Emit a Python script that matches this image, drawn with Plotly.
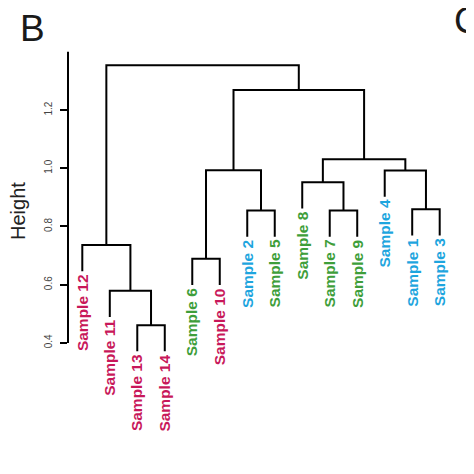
import plotly.graph_objects as go

# Orden de las hojas en el dendrograma (de izquierda a derecha)
leaf_order = [12, 11, 13, 14, 6, 10, 2, 5, 8, 7, 9, 4, 1, 3]

# Grupo de cada muestra
group_red = [10, 11, 12, 13, 14]
group_green = [5, 6, 7, 8, 9]
group_blue = [1, 2, 3, 4]

# Uniones estilo hclust: negativo = muestra, positivo = union previa
merge_left = [-13, -11, -6, -12, -2, -7, -1, -8, -4, 3, 8, 10, 4]
merge_right = [-14, 1, -10, 2, -5, -9, -3, 6, 7, 5, 9, 11, 12]
merge_height = [0.461, 0.579, 0.689, 0.736, 0.855, 0.855, 0.859,
                0.952, 0.992, 0.993, 1.031, 1.269, 1.354]

hang = 0.09
yticks = [0.4, 0.6, 0.8, 1.0, 1.2]

colors = {}
for s in group_red:
    colors[s] = '#C8185A'
for s in group_green:
    colors[s] = '#3E9E3A'
for s in group_blue:
    colors[s] = '#1EA5DE'

leaf_x = {s: i + 1 for i, s in enumerate(leaf_order)}
node_x = []

def child_pos(c, h):
    # devuelve (x, y_inferior) del hijo
    if c < 0:
        return leaf_x[-c], h - hang
    return node_x[c - 1], merge_height[c - 1]

xs, ys = [], []
leaf_ends = {}
for i in range(len(merge_height)):
    h = merge_height[i]
    xl, yl = child_pos(merge_left[i], h)
    xr, yr = child_pos(merge_right[i], h)
    for c, y in ((merge_left[i], yl), (merge_right[i], yr)):
        if c < 0:
            leaf_ends[-c] = y
    xs += [xl, xl, xr, xr, None]
    ys += [yl, h, h, yr, None]
    node_x.append((xl + xr) / 2)

fig = go.Figure(go.Scatter(
    x=xs, y=ys, mode='lines',
    line=dict(color='black', width=2),
    hoverinfo='skip', showlegend=False,
))

# Etiquetas de las hojas
for s in leaf_order:
    fig.add_annotation(
        x=leaf_x[s], y=leaf_ends[s], xref='x', yref='y',
        text='<b>Sample %d</b>' % s, showarrow=False, textangle=-90,
        xanchor='center', yanchor='top', yshift=-2, borderpad=0,
        font=dict(family='Liberation Sans, Arial', size=15.5, color=colors[s]),
    )

# Eje vertical (solo de 0.4 a 1.4, como en R)
fig.add_shape(type='line', xref='paper', yref='y', x0=0, x1=0, y0=0.4, y1=1.4,
              line=dict(color='black', width=2))

fig.add_annotation(x=-0.1295, y=0.494, xref='paper', yref='paper', text='Height',
                   showarrow=False, textangle=-90, xanchor='center', yanchor='middle',
                   font=dict(family='Liberation Sans, Arial', size=20, color='#222'))
fig.add_annotation(x=-0.129, y=1.055, xref='paper', yref='paper', text='B',
                   showarrow=False, xanchor='left', yanchor='middle',
                   font=dict(family='Liberation Sans, Arial', size=37, color='#1a1a1a'))
fig.add_annotation(x=0.995, y=1.077, xref='paper', yref='paper', text='C',
                   showarrow=False, xanchor='left', yanchor='middle',
                   font=dict(family='Liberation Sans, Arial', size=37, color='#1a1a1a'))

# La pagina tiene 8px de margen en body: figura de 466 px
fig.update_layout(
    width=466, height=466,
    margin=dict(l=60, r=20, t=38, b=102),
    paper_bgcolor='white', plot_bgcolor='white',
    xaxis=dict(visible=False, range=[0.48, 14.52]),
    yaxis=dict(range=[0.3, 1.42], tickvals=yticks, ticktext=['%.1f' % v for v in yticks],
               ticks='outside', ticklen=7, tickwidth=2, tickcolor='black',
               showline=False, showgrid=False, zeroline=False,
               tickangle=-90, ticklabelstandoff=4,
               tickfont=dict(family='Liberation Sans, Arial', size=10, color='#444')),
)

fig.write_html("out.html")
